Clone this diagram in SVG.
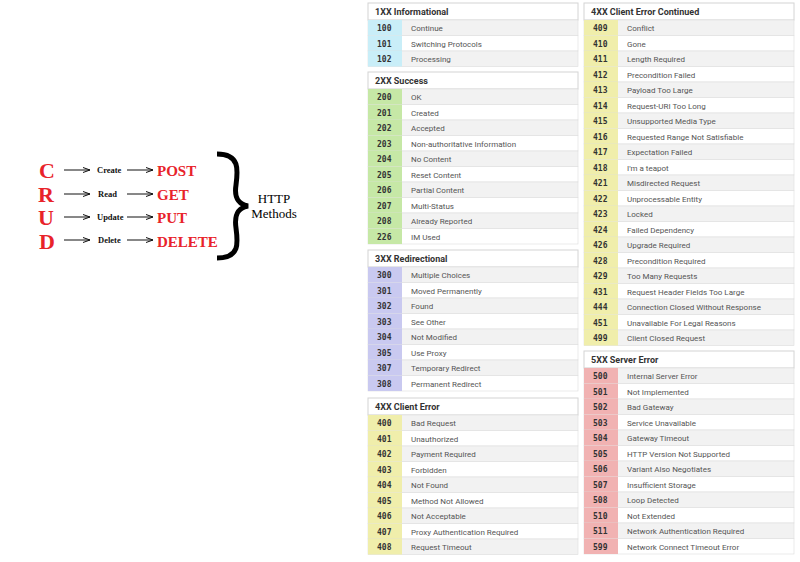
<svg xmlns="http://www.w3.org/2000/svg" width="800" height="562" viewBox="0 0 800 562">
<style>
.hd{fill:#fff;stroke:#d4d4d4;stroke-width:1}
.ht{font:bold 9px Roboto,"Liberation Sans",sans-serif;fill:#333}
.r0{fill:#f2f2f2;stroke:#dcdcdc;stroke-width:.6}
.r1{fill:#fff;stroke:#dcdcdc;stroke-width:.6}
.cd{font:bold 8px "DejaVu Sans Mono",monospace;fill:#333}
.lb{font:8px Roboto,"Liberation Sans",sans-serif;fill:#555}
.b{fill:#c9eef8}.g{fill:#c6e8a6}.p{fill:#c9c9f0}.y{fill:#f0eeab}.k{fill:#f1b2b2}
.L{font:bold 22px "Liberation Serif",serif;fill:#e8232a}
.M{font:bold 15px "Liberation Serif",serif;fill:#e8232a}
.w{font:bold 8.5px "Liberation Serif",serif;fill:#111}
.a{stroke:#111;stroke-width:1;fill:none;marker-end:url(#ah)}
</style>
<defs><marker id="ah" markerWidth="8" markerHeight="6" refX="7" refY="3" orient="auto" markerUnits="userSpaceOnUse"><path d="M0,0.5 L7,3 L0,5.5" fill="none" stroke="#111" stroke-width="1"/></marker></defs>
<rect width="800" height="562" fill="#fff"/>
<g id="crud">
<text class="L" x="39" y="178">C</text><text class="L" x="38" y="202">R</text><text class="L" x="38" y="225">U</text><text class="L" x="39" y="249">D</text>
<text class="w" x="97" y="173">Create</text><text class="w" x="98" y="197">Read</text><text class="w" x="97" y="220">Update</text><text class="w" x="98" y="243">Delete</text>
<text class="M" x="157" y="176">POST</text><text class="M" x="157" y="200">GET</text><text class="M" x="157" y="223">PUT</text><text class="M" x="157" y="247">DELETE</text>
<path d="M217,154 C240,154 238,170 236,185 C234,198 238,204 248,206 C238,208 234,214 236,228 C238,243 240,258 217,258" fill="none" stroke="#000" stroke-width="5"/>
<text x="274" y="203" text-anchor="middle" style="font:13px 'Liberation Serif',serif">HTTP</text>
<text x="274" y="218" text-anchor="middle" style="font:13px 'Liberation Serif',serif">Methods</text>
</g>
<g id="connectors">
<path class="a" d="M64,170H90"/><path class="a" d="M127,170H153"/>
<path class="a" d="M64,194H90"/><path class="a" d="M127,194H153"/>
<path class="a" d="M64,217H90"/><path class="a" d="M127,217H153"/>
<path class="a" d="M64,240H90"/><path class="a" d="M127,240H153"/>
</g>
<g id="s1xx">
<rect class="hd" x="368" y="3" width="210" height="17"/><text class="ht" x="375" y="15">1XX Informational</text>
<rect class="r0" x="368" y="20" width="210" height="15.5"/><rect class="b" x="368" y="20" width="34" height="15.5"/><text class="cd" x="377" y="31">100</text><text class="lb" x="411" y="31">Continue</text>
<rect class="r1" x="368" y="35.5" width="210" height="15.5"/><rect class="b" x="368" y="35.5" width="34" height="15.5"/><text class="cd" x="377" y="46.5">101</text><text class="lb" x="411" y="46.5">Switching Protocols</text>
<rect class="r0" x="368" y="51" width="210" height="15.5"/><rect class="b" x="368" y="51" width="34" height="15.5"/><text class="cd" x="377" y="62">102</text><text class="lb" x="411" y="62">Processing</text>
</g>
<g id="s2xx">
<rect class="hd" x="368" y="72" width="210" height="17"/><text class="ht" x="375" y="84">2XX Success</text>
<rect class="r0" x="368" y="89" width="210" height="15.5"/><rect class="g" x="368" y="89" width="34" height="15.5"/><text class="cd" x="377" y="100">200</text><text class="lb" x="411" y="100">OK</text>
<rect class="r1" x="368" y="104.5" width="210" height="15.5"/><rect class="g" x="368" y="104.5" width="34" height="15.5"/><text class="cd" x="377" y="115.5">201</text><text class="lb" x="411" y="115.5">Created</text>
<rect class="r0" x="368" y="120" width="210" height="15.5"/><rect class="g" x="368" y="120" width="34" height="15.5"/><text class="cd" x="377" y="131">202</text><text class="lb" x="411" y="131">Accepted</text>
<rect class="r1" x="368" y="135.5" width="210" height="15.5"/><rect class="g" x="368" y="135.5" width="34" height="15.5"/><text class="cd" x="377" y="146.5">203</text><text class="lb" x="411" y="146.5">Non-authoritative Information</text>
<rect class="r0" x="368" y="151" width="210" height="15.5"/><rect class="g" x="368" y="151" width="34" height="15.5"/><text class="cd" x="377" y="162">204</text><text class="lb" x="411" y="162">No Content</text>
<rect class="r1" x="368" y="166.5" width="210" height="15.5"/><rect class="g" x="368" y="166.5" width="34" height="15.5"/><text class="cd" x="377" y="177.5">205</text><text class="lb" x="411" y="177.5">Reset Content</text>
<rect class="r0" x="368" y="182" width="210" height="15.5"/><rect class="g" x="368" y="182" width="34" height="15.5"/><text class="cd" x="377" y="193">206</text><text class="lb" x="411" y="193">Partial Content</text>
<rect class="r1" x="368" y="197.5" width="210" height="15.5"/><rect class="g" x="368" y="197.5" width="34" height="15.5"/><text class="cd" x="377" y="208.5">207</text><text class="lb" x="411" y="208.5">Multi-Status</text>
<rect class="r0" x="368" y="213" width="210" height="15.5"/><rect class="g" x="368" y="213" width="34" height="15.5"/><text class="cd" x="377" y="224">208</text><text class="lb" x="411" y="224">Already Reported</text>
<rect class="r1" x="368" y="228.5" width="210" height="15.5"/><rect class="g" x="368" y="228.5" width="34" height="15.5"/><text class="cd" x="377" y="239.5">226</text><text class="lb" x="411" y="239.5">IM Used</text>
</g>
<g id="s3xx">
<rect class="hd" x="368" y="250" width="210" height="17"/><text class="ht" x="375" y="262">3XX Redirectional</text>
<rect class="r0" x="368" y="267" width="210" height="15.5"/><rect class="p" x="368" y="267" width="34" height="15.5"/><text class="cd" x="377" y="278">300</text><text class="lb" x="411" y="278">Multiple Choices</text>
<rect class="r1" x="368" y="282.5" width="210" height="15.5"/><rect class="p" x="368" y="282.5" width="34" height="15.5"/><text class="cd" x="377" y="293.5">301</text><text class="lb" x="411" y="293.5">Moved Permanently</text>
<rect class="r0" x="368" y="298" width="210" height="15.5"/><rect class="p" x="368" y="298" width="34" height="15.5"/><text class="cd" x="377" y="309">302</text><text class="lb" x="411" y="309">Found</text>
<rect class="r1" x="368" y="313.5" width="210" height="15.5"/><rect class="p" x="368" y="313.5" width="34" height="15.5"/><text class="cd" x="377" y="324.5">303</text><text class="lb" x="411" y="324.5">See Other</text>
<rect class="r0" x="368" y="329" width="210" height="15.5"/><rect class="p" x="368" y="329" width="34" height="15.5"/><text class="cd" x="377" y="340">304</text><text class="lb" x="411" y="340">Not Modified</text>
<rect class="r1" x="368" y="344.5" width="210" height="15.5"/><rect class="p" x="368" y="344.5" width="34" height="15.5"/><text class="cd" x="377" y="355.5">305</text><text class="lb" x="411" y="355.5">Use Proxy</text>
<rect class="r0" x="368" y="360" width="210" height="15.5"/><rect class="p" x="368" y="360" width="34" height="15.5"/><text class="cd" x="377" y="371">307</text><text class="lb" x="411" y="371">Temporary Redirect</text>
<rect class="r1" x="368" y="375.5" width="210" height="15.5"/><rect class="p" x="368" y="375.5" width="34" height="15.5"/><text class="cd" x="377" y="386.5">308</text><text class="lb" x="411" y="386.5">Permanent Redirect</text>
</g>
<g id="s4xx">
<rect class="hd" x="368" y="398" width="210" height="17"/><text class="ht" x="375" y="410">4XX Client Error</text>
<rect class="r0" x="368" y="415" width="210" height="15.5"/><rect class="y" x="368" y="415" width="34" height="15.5"/><text class="cd" x="377" y="426">400</text><text class="lb" x="411" y="426">Bad Request</text>
<rect class="r1" x="368" y="430.5" width="210" height="15.5"/><rect class="y" x="368" y="430.5" width="34" height="15.5"/><text class="cd" x="377" y="441.5">401</text><text class="lb" x="411" y="441.5">Unauthorized</text>
<rect class="r0" x="368" y="446" width="210" height="15.5"/><rect class="y" x="368" y="446" width="34" height="15.5"/><text class="cd" x="377" y="457">402</text><text class="lb" x="411" y="457">Payment Required</text>
<rect class="r1" x="368" y="461.5" width="210" height="15.5"/><rect class="y" x="368" y="461.5" width="34" height="15.5"/><text class="cd" x="377" y="472.5">403</text><text class="lb" x="411" y="472.5">Forbidden</text>
<rect class="r0" x="368" y="477" width="210" height="15.5"/><rect class="y" x="368" y="477" width="34" height="15.5"/><text class="cd" x="377" y="488">404</text><text class="lb" x="411" y="488">Not Found</text>
<rect class="r1" x="368" y="492.5" width="210" height="15.5"/><rect class="y" x="368" y="492.5" width="34" height="15.5"/><text class="cd" x="377" y="503.5">405</text><text class="lb" x="411" y="503.5">Method Not Allowed</text>
<rect class="r0" x="368" y="508" width="210" height="15.5"/><rect class="y" x="368" y="508" width="34" height="15.5"/><text class="cd" x="377" y="519">406</text><text class="lb" x="411" y="519">Not Acceptable</text>
<rect class="r1" x="368" y="523.5" width="210" height="15.5"/><rect class="y" x="368" y="523.5" width="34" height="15.5"/><text class="cd" x="377" y="534.5">407</text><text class="lb" x="411" y="534.5">Proxy Authentication Required</text>
<rect class="r0" x="368" y="539" width="210" height="15.5"/><rect class="y" x="368" y="539" width="34" height="15.5"/><text class="cd" x="377" y="550">408</text><text class="lb" x="411" y="550">Request Timeout</text>
</g>
<g id="s4xxc">
<rect class="hd" x="584" y="3" width="210" height="17"/><text class="ht" x="591" y="15">4XX Client Error Continued</text>
<rect class="r0" x="584" y="20" width="210" height="15.5"/><rect class="y" x="584" y="20" width="34" height="15.5"/><text class="cd" x="593" y="31">409</text><text class="lb" x="627" y="31">Conflict</text>
<rect class="r1" x="584" y="35.5" width="210" height="15.5"/><rect class="y" x="584" y="35.5" width="34" height="15.5"/><text class="cd" x="593" y="46.5">410</text><text class="lb" x="627" y="46.5">Gone</text>
<rect class="r0" x="584" y="51" width="210" height="15.5"/><rect class="y" x="584" y="51" width="34" height="15.5"/><text class="cd" x="593" y="62">411</text><text class="lb" x="627" y="62">Length Required</text>
<rect class="r1" x="584" y="66.5" width="210" height="15.5"/><rect class="y" x="584" y="66.5" width="34" height="15.5"/><text class="cd" x="593" y="77.5">412</text><text class="lb" x="627" y="77.5">Precondition Failed</text>
<rect class="r0" x="584" y="82" width="210" height="15.5"/><rect class="y" x="584" y="82" width="34" height="15.5"/><text class="cd" x="593" y="93">413</text><text class="lb" x="627" y="93">Payload Too Large</text>
<rect class="r1" x="584" y="97.5" width="210" height="15.5"/><rect class="y" x="584" y="97.5" width="34" height="15.5"/><text class="cd" x="593" y="108.5">414</text><text class="lb" x="627" y="108.5">Request-URI Too Long</text>
<rect class="r0" x="584" y="113" width="210" height="15.5"/><rect class="y" x="584" y="113" width="34" height="15.5"/><text class="cd" x="593" y="124">415</text><text class="lb" x="627" y="124">Unsupported Media Type</text>
<rect class="r1" x="584" y="128.5" width="210" height="15.5"/><rect class="y" x="584" y="128.5" width="34" height="15.5"/><text class="cd" x="593" y="139.5">416</text><text class="lb" x="627" y="139.5">Requested Range Not Satisfiable</text>
<rect class="r0" x="584" y="144" width="210" height="15.5"/><rect class="y" x="584" y="144" width="34" height="15.5"/><text class="cd" x="593" y="155">417</text><text class="lb" x="627" y="155">Expectation Failed</text>
<rect class="r1" x="584" y="159.5" width="210" height="15.5"/><rect class="y" x="584" y="159.5" width="34" height="15.5"/><text class="cd" x="593" y="170.5">418</text><text class="lb" x="627" y="170.5">I'm a teapot</text>
<rect class="r0" x="584" y="175" width="210" height="15.5"/><rect class="y" x="584" y="175" width="34" height="15.5"/><text class="cd" x="593" y="186">421</text><text class="lb" x="627" y="186">Misdirected Request</text>
<rect class="r1" x="584" y="190.5" width="210" height="15.5"/><rect class="y" x="584" y="190.5" width="34" height="15.5"/><text class="cd" x="593" y="201.5">422</text><text class="lb" x="627" y="201.5">Unprocessable Entity</text>
<rect class="r0" x="584" y="206" width="210" height="15.5"/><rect class="y" x="584" y="206" width="34" height="15.5"/><text class="cd" x="593" y="217">423</text><text class="lb" x="627" y="217">Locked</text>
<rect class="r1" x="584" y="221.5" width="210" height="15.5"/><rect class="y" x="584" y="221.5" width="34" height="15.5"/><text class="cd" x="593" y="232.5">424</text><text class="lb" x="627" y="232.5">Failed Dependency</text>
<rect class="r0" x="584" y="237" width="210" height="15.5"/><rect class="y" x="584" y="237" width="34" height="15.5"/><text class="cd" x="593" y="248">426</text><text class="lb" x="627" y="248">Upgrade Required</text>
<rect class="r1" x="584" y="252.5" width="210" height="15.5"/><rect class="y" x="584" y="252.5" width="34" height="15.5"/><text class="cd" x="593" y="263.5">428</text><text class="lb" x="627" y="263.5">Precondition Required</text>
<rect class="r0" x="584" y="268" width="210" height="15.5"/><rect class="y" x="584" y="268" width="34" height="15.5"/><text class="cd" x="593" y="279">429</text><text class="lb" x="627" y="279">Too Many Requests</text>
<rect class="r1" x="584" y="283.5" width="210" height="15.5"/><rect class="y" x="584" y="283.5" width="34" height="15.5"/><text class="cd" x="593" y="294.5">431</text><text class="lb" x="627" y="294.5">Request Header Fields Too Large</text>
<rect class="r0" x="584" y="299" width="210" height="15.5"/><rect class="y" x="584" y="299" width="34" height="15.5"/><text class="cd" x="593" y="310">444</text><text class="lb" x="627" y="310">Connection Closed Without Response</text>
<rect class="r1" x="584" y="314.5" width="210" height="15.5"/><rect class="y" x="584" y="314.5" width="34" height="15.5"/><text class="cd" x="593" y="325.5">451</text><text class="lb" x="627" y="325.5">Unavailable For Legal Reasons</text>
<rect class="r0" x="584" y="330" width="210" height="15.5"/><rect class="y" x="584" y="330" width="34" height="15.5"/><text class="cd" x="593" y="341">499</text><text class="lb" x="627" y="341">Client Closed Request</text>
</g>
<g id="s5xx">
<rect class="hd" x="584" y="351" width="210" height="17"/><text class="ht" x="591" y="363">5XX Server Error</text>
<rect class="r0" x="584" y="368" width="210" height="15.5"/><rect class="k" x="584" y="368" width="34" height="15.5"/><text class="cd" x="593" y="379">500</text><text class="lb" x="627" y="379">Internal Server Error</text>
<rect class="r1" x="584" y="383.5" width="210" height="15.5"/><rect class="k" x="584" y="383.5" width="34" height="15.5"/><text class="cd" x="593" y="394.5">501</text><text class="lb" x="627" y="394.5">Not Implemented</text>
<rect class="r0" x="584" y="399" width="210" height="15.5"/><rect class="k" x="584" y="399" width="34" height="15.5"/><text class="cd" x="593" y="410">502</text><text class="lb" x="627" y="410">Bad Gateway</text>
<rect class="r1" x="584" y="414.5" width="210" height="15.5"/><rect class="k" x="584" y="414.5" width="34" height="15.5"/><text class="cd" x="593" y="425.5">503</text><text class="lb" x="627" y="425.5">Service Unavailable</text>
<rect class="r0" x="584" y="430" width="210" height="15.5"/><rect class="k" x="584" y="430" width="34" height="15.5"/><text class="cd" x="593" y="441">504</text><text class="lb" x="627" y="441">Gateway Timeout</text>
<rect class="r1" x="584" y="445.5" width="210" height="15.5"/><rect class="k" x="584" y="445.5" width="34" height="15.5"/><text class="cd" x="593" y="456.5">505</text><text class="lb" x="627" y="456.5">HTTP Version Not Supported</text>
<rect class="r0" x="584" y="461" width="210" height="15.5"/><rect class="k" x="584" y="461" width="34" height="15.5"/><text class="cd" x="593" y="472">506</text><text class="lb" x="627" y="472">Variant Also Negotiates</text>
<rect class="r1" x="584" y="476.5" width="210" height="15.5"/><rect class="k" x="584" y="476.5" width="34" height="15.5"/><text class="cd" x="593" y="487.5">507</text><text class="lb" x="627" y="487.5">Insufficient Storage</text>
<rect class="r0" x="584" y="492" width="210" height="15.5"/><rect class="k" x="584" y="492" width="34" height="15.5"/><text class="cd" x="593" y="503">508</text><text class="lb" x="627" y="503">Loop Detected</text>
<rect class="r1" x="584" y="507.5" width="210" height="15.5"/><rect class="k" x="584" y="507.5" width="34" height="15.5"/><text class="cd" x="593" y="518.5">510</text><text class="lb" x="627" y="518.5">Not Extended</text>
<rect class="r0" x="584" y="523" width="210" height="15.5"/><rect class="k" x="584" y="523" width="34" height="15.5"/><text class="cd" x="593" y="534">511</text><text class="lb" x="627" y="534">Network Authentication Required</text>
<rect class="r1" x="584" y="538.5" width="210" height="15.5"/><rect class="k" x="584" y="538.5" width="34" height="15.5"/><text class="cd" x="593" y="549.5">599</text><text class="lb" x="627" y="549.5">Network Connect Timeout Error</text>
</g>
</svg>
